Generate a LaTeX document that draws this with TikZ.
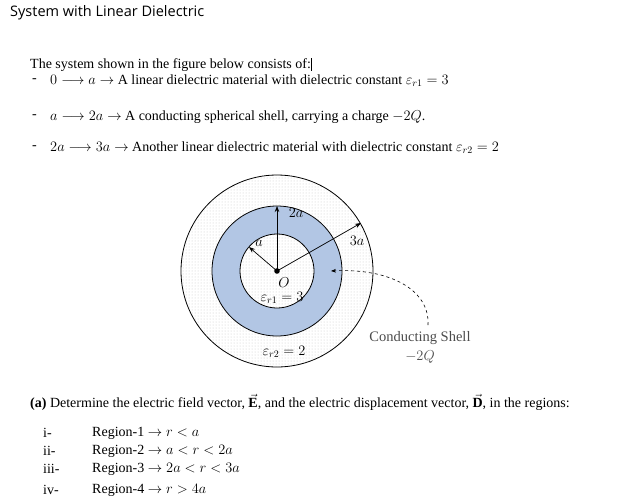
\documentclass[tikz,border=0pt]{standalone}
\usepackage{fontspec}
\setmainfont{Liberation Serif}
\newfontfamily\titlefont{Open Sans}
\usetikzlibrary{patterns,arrows.meta}
\definecolor{shell}{RGB}{178,198,228}
\begin{document}
\begin{tikzpicture}[x=1pt,y=-1pt,
  txt/.style={anchor=west,inner sep=0,font=\fontsize{14}{15}\selectfont},
  lab/.style={inner sep=0,font=\fontsize{14.5}{15}\selectfont},
  rad/.style={-{Stealth[length=6pt]},line width=0.7pt}]
\useasboundingbox (0,0) rectangle (622,499);
\node[anchor=west,inner sep=0,font=\titlefont\fontsize{14.5}{15}\selectfont] (title) at (10,13) {System with Linear Dielectric};
\node[txt] (intro) at (30,65) {The system shown in the figure below consists of:\rule[-2pt]{0.5pt}{13pt}};
\node[txt] (d1) at (32,81) {-};
\node[txt] (b1) at (50,81) {$0\longrightarrow a\rightarrow$ A linear dielectric material with dielectric constant $\varepsilon_{r1}=3$};
\node[txt] (d2) at (32,117) {-};
\node[txt] (b2) at (50,117) {$a\longrightarrow 2a\rightarrow$ A conducting spherical shell, carrying a charge $-2Q$.};
\node[txt] (d3) at (32,148) {-};
\node[txt] (b3) at (50,148) {$2a\longrightarrow 3a\rightarrow$ Another linear dielectric material with dielectric constant $\varepsilon_{r2}=2$};
% figure
\coordinate (O) at (277,271);
\fill[pattern=dots,pattern color=gray!45] (O) circle (96);
\draw[line width=0.8pt] (O) circle (96);
\fill[shell,even odd rule] (O) circle (65) (O) circle (37);
\draw[line width=0.8pt] (O) circle (65);
\fill[white] (O) circle (37);
\fill[pattern=dots,pattern color=gray!45] (O) circle (37);
\draw[line width=0.8pt] (O) circle (37);
\fill (O) circle (2.8);
\draw[rad] (O) -- ++(-28,-24) coordinate (pa);
\draw[rad] (O) -- ++(0,-65) coordinate (p2a);
\draw[rad] (O) -- ++(84,-48) coordinate (p3a);
\node[lab] (la) at (259,243) {$a$};
\node[lab] (l2a) at (296,213) {$2a$};
\node[lab] (l3a) at (357,241) {$3a$};
\node[lab] (lO) at (284,283) {$O$};
\node[lab] (e1) at (282,298) {$\varepsilon_{r1}=3$};
\node[lab] (e2) at (284,352) {$\varepsilon_{r2}=2$};
\node[lab,text=black!70] (cs) at (420,338) {Conducting Shell};
\node[lab,text=black!70] (q) at (420,357) {$-2Q$};
\coordinate (start) at (428,325);
\coordinate (tip) at (331,271);
\draw[dashed,-{Stealth[length=5pt]},line width=0.6pt] (start) .. controls (430,290) and (390,268) .. (tip);
\node[txt] (qa) at (30,402) {\textbf{(a)} Determine the electric field vector, $\vec{\mathbf{E}}$, and the electric displacement vector, $\vec{\mathbf{D}}$, in the regions:};
\node[txt] (i1) at (43,433) {i-};
\node[txt] (i2) at (43,451) {ii-};
\node[txt] (i3) at (43,469) {iii-};
\node[txt] (i4) at (43,490) {iv-};
\node[txt] (r1) at (92,433) {Region-1 $\rightarrow r<a$};
\node[txt] (r2) at (92,451) {Region-2 $\rightarrow a<r<2a$};
\node[txt] (r3) at (92,469) {Region-3 $\rightarrow 2a<r<3a$};
\node[txt] (r4) at (92,490) {Region-4 $\rightarrow r>4a$};
\end{tikzpicture}
\end{document}
